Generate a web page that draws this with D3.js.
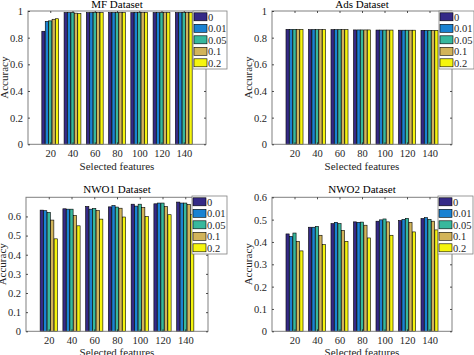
<!DOCTYPE html>
<html><head><meta charset="utf-8">
<script src="https://cdn.jsdelivr.net/npm/d3@7"></script>
<style>html,body{margin:0;padding:0;background:#fff;}svg{display:block;}</style>
</head><body>
<svg id="chart" width="474" height="355"></svg>
<script>
const features = [20, 40, 60, 80, 100, 120, 140];
const seriesNames = ["0", "0.01", "0.05", "0.1", "0.2"];
const colors = ["#352A87", "#1A82D2", "#37B89D", "#D2B45A", "#F5F50E"];

const mfValues = [
  [0.848, 0.988, 0.988, 0.988, 0.988, 0.988, 0.988],
  [0.922, 0.988, 0.988, 0.988, 0.988, 0.988, 0.988],
  [0.926, 0.988, 0.988, 0.988, 0.988, 0.988, 0.988],
  [0.938, 0.984, 0.988, 0.988, 0.988, 0.988, 0.988],
  [0.942, 0.980, 0.988, 0.988, 0.988, 0.988, 0.988]
];
const adsValues = [
  [0.862, 0.860, 0.860, 0.858, 0.857, 0.856, 0.855],
  [0.862, 0.860, 0.860, 0.858, 0.857, 0.856, 0.855],
  [0.862, 0.860, 0.860, 0.858, 0.857, 0.856, 0.855],
  [0.862, 0.860, 0.860, 0.858, 0.857, 0.856, 0.855],
  [0.862, 0.860, 0.860, 0.858, 0.857, 0.856, 0.855]
];
const nwo1Values = [
  [0.633, 0.640, 0.652, 0.650, 0.664, 0.666, 0.675],
  [0.630, 0.638, 0.638, 0.657, 0.654, 0.670, 0.670],
  [0.621, 0.638, 0.642, 0.649, 0.664, 0.670, 0.670],
  [0.581, 0.605, 0.631, 0.643, 0.647, 0.652, 0.663],
  [0.483, 0.551, 0.586, 0.597, 0.600, 0.609, 0.609]
];
const nwo2Values = [
  [0.436, 0.466, 0.482, 0.490, 0.493, 0.496, 0.505],
  [0.425, 0.466, 0.488, 0.488, 0.499, 0.501, 0.509],
  [0.440, 0.470, 0.482, 0.489, 0.503, 0.506, 0.501],
  [0.403, 0.430, 0.452, 0.475, 0.490, 0.488, 0.493],
  [0.360, 0.388, 0.403, 0.418, 0.430, 0.445, 0.454]
];
const yTicks1 = [0, 0.2, 0.4, 0.6, 0.8, 1];
const yTicks3 = [0, 0.1, 0.2, 0.3, 0.4, 0.5, 0.6];
const yTicks4 = [0, 0.1, 0.2, 0.3, 0.4, 0.5, 0.6];

const panels = [
  {title: "MF Dataset", values: mfValues, ymax: 1, ticks: yTicks1, fmt: d => String(d),
   box: {l: 28, r: 206, t: 11, b: 144.3}, leg: {x: 193, y: 11, w: 34, h: 58}, titleY: 8, xlabY: 169.5},
  {title: "Ads Dataset", values: adsValues, ymax: 1, ticks: yTicks1, fmt: d => String(d),
   box: {l: 272, r: 452, t: 11, b: 144.3}, leg: {x: 439, y: 11, w: 35, h: 58}, titleY: 8, xlabY: 169.5},
  {title: "NWO1 Dataset", values: nwo1Values, ymax: 0.7, ticks: yTicks3, fmt: d => String(d),
   box: {l: 26, r: 208, t: 197.3, b: 331.3}, leg: {x: 192, y: 196, w: 35, h: 58}, titleY: 192.5, xlabY: 356},
  {title: "NWO2 Dataset", values: nwo2Values, ymax: 0.6, ticks: yTicks4, fmt: d => String(d),
   box: {l: 272, r: 452, t: 197.3, b: 331.3}, leg: {x: 438, y: 196, w: 35, h: 58}, titleY: 192.5, xlabY: 356}
];

const svg = d3.select("#chart");
const FONT = "'Liberation Serif', 'Times New Roman', serif";
const axisColor = "#262626";

panels.forEach(p => {
  const g = svg.append("g");
  const b = p.box;
  const x = d3.scaleLinear().domain([0, 160]).range([b.l, b.r]);
  const y = d3.scaleLinear().domain([0, p.ymax]).range([b.b, b.t]);
  const spacing = x(20) - x(0);
  const groupW = spacing * (5 / 6.5);
  const slot = groupW / 5;
  const bw = slot * 0.92;

  // bars
  p.values.forEach((vals, si) => {
    g.append("g").selectAll("rect").data(vals).join("rect")
      .attr("x", (d, i) => x(features[i]) - groupW / 2 + si * slot + (slot - bw) / 2)
      .attr("y", d => y(d))
      .attr("width", bw)
      .attr("height", d => y(0) - y(d))
      .attr("fill", colors[si])
      .attr("stroke", "#000")
      .attr("stroke-width", 0.6);
  });

  // box
  g.append("rect").attr("x", b.l).attr("y", b.t).attr("width", b.r - b.l).attr("height", b.b - b.t)
    .attr("fill", "none").attr("stroke", "#808080").attr("stroke-width", 1);

  // axes
  const tl = 2;
  const yAxisL = d3.axisLeft(y).tickValues(p.ticks).tickFormat(p.fmt).tickSizeInner(-tl).tickSizeOuter(0).tickPadding(5);
  const yAxisR = d3.axisRight(y).tickValues(p.ticks).tickFormat("").tickSizeInner(-tl).tickSizeOuter(0);
  const xAxisB = d3.axisBottom(x).tickValues(features).tickFormat(d => String(d)).tickSizeInner(-tl).tickSizeOuter(0).tickPadding(5);
  const xAxisT = d3.axisTop(x).tickValues(features).tickFormat("").tickSizeInner(-tl).tickSizeOuter(0);
  const axes = [
    g.append("g").attr("transform", `translate(${b.l},0)`).call(yAxisL),
    g.append("g").attr("transform", `translate(${b.r},0)`).call(yAxisR),
    g.append("g").attr("transform", `translate(0,${b.b})`).call(xAxisB),
    g.append("g").attr("transform", `translate(0,${b.t})`).call(xAxisT)
  ];
  axes.forEach(a => {
    a.select(".domain").remove();
    a.selectAll(".tick line").attr("stroke", axisColor).attr("stroke-width", 0.8);
    a.selectAll(".tick text").attr("fill", axisColor).style("font-family", FONT).style("font-size", "10.5px");
  });

  // title
  g.append("text").attr("x", (b.l + b.r) / 2).attr("y", p.titleY).attr("text-anchor", "middle")
    .style("font-family", FONT).style("font-size", "11px").attr("fill", "#000").text(p.title);
  // x label
  g.append("text").attr("x", (b.l + b.r) / 2).attr("y", p.xlabY).attr("text-anchor", "middle")
    .style("font-family", FONT).style("font-size", "11px").attr("fill", axisColor).text("Selected features");
  // y label
  const ylx = b.l - 20;
  g.append("text").attr("transform", `translate(${ylx},${(b.t + b.b) / 2}) rotate(-90)`).attr("text-anchor", "middle")
    .style("font-family", FONT).style("font-size", "11px").attr("fill", axisColor).text("Accuracy");

  // legend
  const L = p.leg;
  const lg = g.append("g");
  lg.append("rect").attr("x", L.x).attr("y", L.y).attr("width", L.w).attr("height", L.h)
    .attr("fill", "#fff").attr("stroke", "#808080").attr("stroke-width", 0.8);
  seriesNames.forEach((name, i) => {
    const cy = L.y + 5.8 + i * 11.5;
    lg.append("rect").attr("x", L.x + 1).attr("y", cy - 4).attr("width", 13).attr("height", 8)
      .attr("fill", colors[i]).attr("stroke", "#000").attr("stroke-width", 0.6);
    lg.append("text").attr("x", L.x + 15).attr("y", cy + 3.8)
      .style("font-family", FONT).style("font-size", "10.5px").attr("fill", axisColor).text(name);
  });
});
</script>
</body></html>
